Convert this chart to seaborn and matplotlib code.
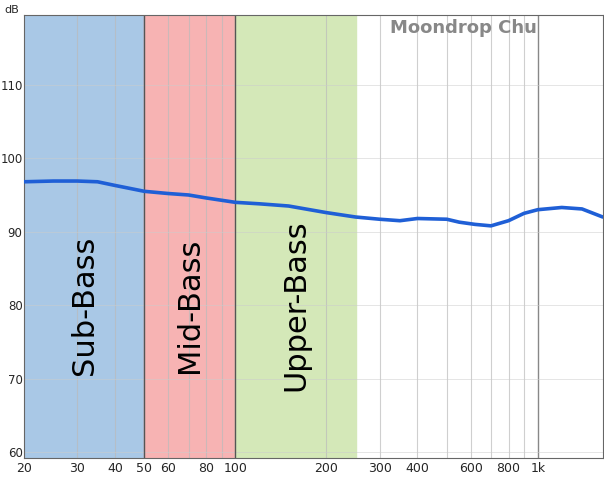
import matplotlib
matplotlib.use("Agg")
import matplotlib.pyplot as plt
import seaborn as sns
import numpy as np
import pandas as pd

freq = [20, 25, 30, 35, 40, 50, 60, 70, 80, 100, 120, 150, 200, 250, 300, 350, 400, 500, 550, 620, 700, 800, 900, 1000, 1200, 1400, 1640]
spl = [96.8, 96.9, 96.9, 96.8, 96.3, 95.5, 95.2, 95.0, 94.6, 94.0, 93.8, 93.5, 92.6, 92.0, 91.7, 91.5, 91.8, 91.7, 91.3, 91.0, 90.8, 91.5, 92.5, 93.0, 93.3, 93.1, 92.0]
bands = ["Sub-Bass", "Mid-Bass", "Upper-Bass"]
band_lo = [20, 50, 100]
band_hi = [50, 100, 250]
band_col = ["#a9c8e6", "#f7b3b3", "#d4e8b8"]
xticks = [20, 30, 40, 50, 60, 80, 100, 200, 300, 400, 600, 800, 1000]
xlabels = ["20", "30", "40", "50", "60", "80", "100", "200", "300", "400", "600", "800", "1k"]
yticks = [60, 70, 80, 90, 100, 110]

sns.set_style("white")
fig = plt.figure(figsize=(6.04, 4.95), dpi=100)
ax = fig.add_axes([24/604, 37/495, 1-24/604-0.002, (458-15)/495])
ax.set_xscale("log")
ax.set_xlim(21, 1640)
ax.set_ylim(59.2, 119.5)

for lo, hi, c, name in zip(band_lo, band_hi, band_col, bands):
    ax.axvspan(lo, hi, color=c, zorder=0)
    ax.text(np.sqrt(lo*hi), 80, name, rotation=90, ha="center", va="center", fontsize=22,
            family=["Liberation Sans Narrow", "DejaVu Sans"], color="black", zorder=3)
ax.axvline(50, color="#555555", lw=1, zorder=1)
ax.axvline(100, color="#555555", lw=1, zorder=1)

minor = [20, 30, 40, 50, 60, 70, 80, 90, 200, 300, 400, 500, 600, 700, 800, 900]
for f in minor:
    ax.axvline(f, color="#bbbbbb", lw=0.8, zorder=0.5, alpha=0.7)
ax.axvline(1000, color="#888888", lw=1, zorder=0.5)
for y in yticks:
    ax.axhline(y, color="#cccccc", lw=0.6, zorder=0.5, alpha=0.6)

df = pd.DataFrame({"f": freq, "spl": spl})
sns.lineplot(data=df, x="f", y="spl", ax=ax, color="#1f5fd6", lw=2.6, zorder=4)
ax.set_xlabel(""); ax.set_ylabel("")
ax.set_xticks(xticks); ax.set_xticklabels(xlabels, fontsize=9)
ax.minorticks_off()
ax.set_yticks(yticks); ax.set_yticklabels([str(v) for v in yticks], fontsize=8.5)
ax.tick_params(axis="y", pad=1, length=0)
ax.tick_params(axis="x", pad=3, length=0)
for s in ax.spines.values():
    s.set_color("#666666")
fig.text(4/604, 1-10/495, "dB", fontsize=8, va="center")
ax.text(0.76, 0.97, "Moondrop Chu", transform=ax.transAxes, ha="center", va="center", fontsize=13, fontweight="bold", color="#888888")
fig.savefig("out.png", dpi=100)
